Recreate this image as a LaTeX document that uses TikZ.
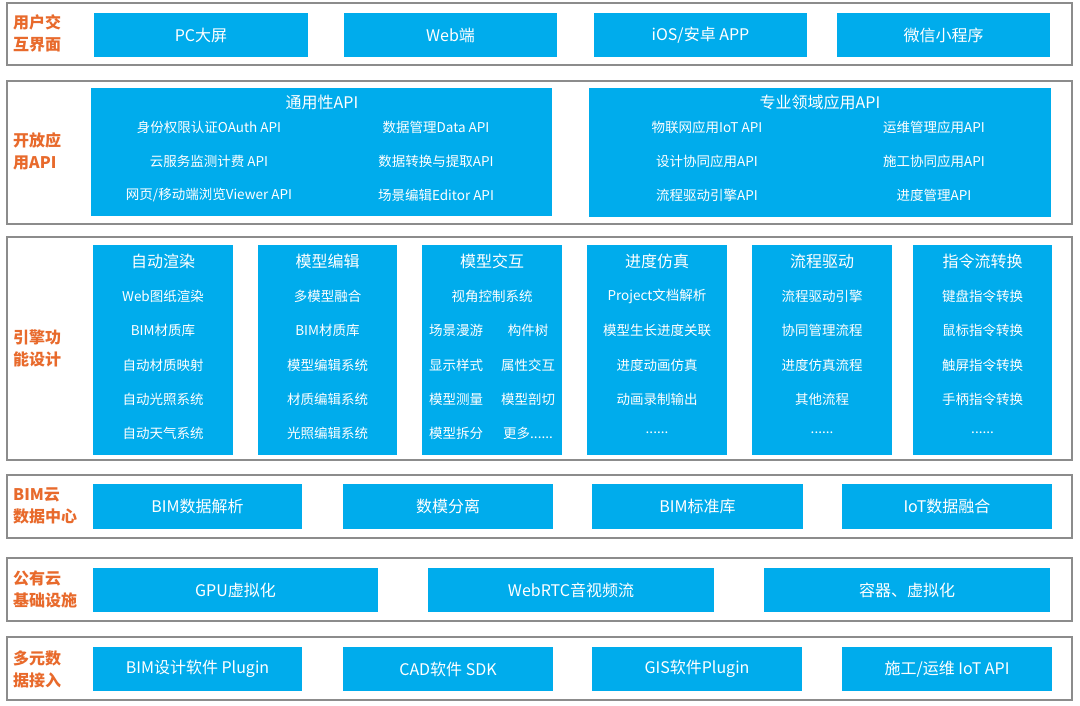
\documentclass[tikz,border=0pt]{standalone}
\usepackage{fontspec}
\newfontfamily\cjk{Noto Sans CJK SC}
\definecolor{bimblue}{RGB}{0,172,236}
\definecolor{lblorange}{RGB}{232,106,44}
\definecolor{framegray}{RGB}{140,140,140}
\newcommand\mysixdots{......}
\begin{document}
\begin{tikzpicture}[x=1pt,y=-1pt,
 layer/.style={draw=framegray,line width=1.6pt,fill=white,minimum width=1065pt,inner sep=0pt},
 bbox/.style={fill=bimblue,draw=none,inner sep=0pt,text=white,font=\cjk\fontsize{16}{19}\selectfont},
 lbl/.style={anchor=west,align=left,text=lblorange,font=\cjk\bfseries\fontsize{16}{22}\selectfont,inner sep=0pt},
 item/.style={text=white,inner sep=0pt,font=\cjk\fontsize{13.5}{16}\selectfont},
 head/.style={text=white,inner sep=0pt,font=\cjk\fontsize{16}{19}\selectfont},
]
\useasboundingbox (0,0) rectangle (1080,705);
\fill[white] (0,0) rectangle (1080,705);

% layer frames
\node[layer,minimum height=62pt] (f1) at (539.5,34) {};
\node[layer,minimum height=143pt] (f2) at (539.5,152.5) {};
\node[layer,minimum height=223pt] (f3) at (539.5,348.5) {};
\node[layer,minimum height=63pt] (f4) at (539.5,506.5) {};
\node[layer,minimum height=63pt] (f5) at (539.5,589.5) {};
\node[layer,minimum height=63pt] (f6) at (539.5,668.5) {};

% labels
\node[lbl] (l1) at (13,33) {用户交\\互界面};
\node[lbl] (l2) at (13,151) {开放应\\用API};
\node[lbl] (l3) at (13,348) {引擎功\\能设计};
\node[lbl] (l4) at (13,506) {BIM云\\数据中心};
\node[lbl] (l5) at (13,589) {公有云\\基础设施};
\node[lbl] (l6) at (13,669) {多元数\\据接入};

% layer 1
\node[bbox,minimum width=214pt,minimum height=44pt] (u1) at (201,35) {PC大屏};
\node[bbox,minimum width=213pt,minimum height=44pt] (u2) at (450.5,35) {Web端};
\node[bbox,minimum width=213pt,minimum height=44pt] (u3) at (700.5,35) {iOS/安卓 APP};
\node[bbox,minimum width=213pt,minimum height=44pt] (u4) at (943.5,35) {微信小程序};

% layer 2
\node[bbox,minimum width=461pt,minimum height=128pt] (gen) at (321.5,152) {};
\node[bbox,minimum width=462pt,minimum height=129pt] (spe) at (820,152.5) {};
\node[head] (genh) at (322,102) {通用性API};
\node[item] (g1) at (209,127) {身份权限认证OAuth API};
\node[item] (g2) at (209,161) {云服务监测计费 API};
\node[item] (g3) at (209,195) {网页/移动端浏览Viewer API};
\node[item] (g4) at (436,127) {数据管理Data API};
\node[item] (g5) at (436,161) {数据转换与提取API};
\node[item] (g6) at (436,195) {场景编辑Editor API};
\node[head] (speh) at (820,102) {专业领域应用API};
\node[item] (s1) at (707,127) {物联网应用IoT API};
\node[item] (s2) at (707,161) {设计协同应用API};
\node[item] (s3) at (707,195) {流程驱动引擎API};
\node[item] (s4) at (934,127) {运维管理应用API};
\node[item] (s5) at (934,161) {施工协同应用API};
\node[item] (s6) at (934,195) {进度管理API};

% layer 3
\foreach \i/\cx/\w/\hd/\a/\b/\c/\d/\e in {
  1/163/140/自动渲染/Web图纸渲染/BIM材质库/自动材质映射/自动光照系统/自动天气系统,
  2/327.5/139/模型编辑/多模型融合/BIM材质库/模型编辑系统/材质编辑系统/光照编辑系统,
  4/657/140/进度仿真/Project文档解析/模型生长进度关联/进度动画仿真/动画录制输出/\mysixdots,
  5/822/140/流程驱动/流程驱动引擎/协同管理流程/进度仿真流程/其他流程/\mysixdots,
  6/982.5/139/指令流转换/键盘指令转换/鼠标指令转换/触屏指令转换/手柄指令转换/\mysixdots}{
  \node[bbox,minimum width=\w pt,minimum height=210pt] (c\i) at (\cx,350) {};
  \node[head] (c\i h) at (\cx,261) {\hd};
  \node[item] (c\i a) at (\cx,296) {\a};
  \node[item] (c\i b) at (\cx,330) {\b};
  \node[item] (c\i c) at (\cx,365) {\c};
  \node[item] (c\i d) at (\cx,399) {\d};
  \node[item] (c\i e) at (\cx,433) {\e};
}
\node[bbox,minimum width=140pt,minimum height=210pt] (c3) at (492,350) {};
\node[head] (c3h) at (492,261) {模型交互};
\node[item] (c3a) at (492,296) {视角控制系统};
\node[item] (c3b1) at (456,330) {场景漫游};
\node[item] (c3b2) at (528,330) {构件树};
\node[item] (c3c1) at (456,365) {显示样式};
\node[item] (c3c2) at (528,365) {属性交互};
\node[item] (c3d1) at (456,399) {模型测量};
\node[item] (c3d2) at (528,399) {模型剖切};
\node[item] (c3e1) at (456,433) {模型拆分};
\node[item] (c3e2) at (528,433) {更多\mysixdots};

% layer 4
\node[bbox,minimum width=209pt,minimum height=45pt] (d1) at (197.5,506.5) {BIM数据解析};
\node[bbox,minimum width=210pt,minimum height=45pt] (d2) at (448,506.5) {数模分离};
\node[bbox,minimum width=211pt,minimum height=45pt] (d3) at (697.5,506.5) {BIM标准库};
\node[bbox,minimum width=210pt,minimum height=45pt] (d4) at (947,506.5) {IoT数据融合};

% layer 5
\node[bbox,minimum width=285pt,minimum height=44pt] (p1) at (235.5,590) {GPU虚拟化};
\node[bbox,minimum width=286pt,minimum height=44pt] (p2) at (571,590) {WebRTC音视频流};
\node[bbox,minimum width=286pt,minimum height=44pt] (p3) at (907,590) {容器、虚拟化};

% layer 6
\node[bbox,minimum width=209pt,minimum height=44pt] (m1) at (197.5,669) {BIM设计软件 Plugin};
\node[bbox,minimum width=210pt,minimum height=44pt] (m2) at (448,669) {CAD软件 SDK};
\node[bbox,minimum width=210pt,minimum height=44pt] (m3) at (697,669) {GIS软件Plugin};
\node[bbox,minimum width=210pt,minimum height=44pt] (m4) at (947,669) {施工/运维 IoT API};
\end{tikzpicture}
\end{document}
